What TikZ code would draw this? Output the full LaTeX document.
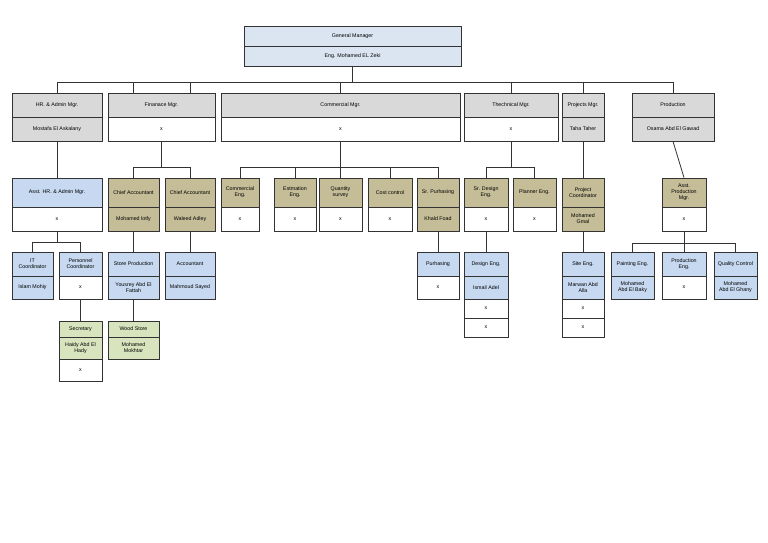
\documentclass[tikz,border=0pt]{standalone}
\usepackage{fontspec}
\setmainfont{Liberation Sans}
\usepackage{tikz}
\usetikzlibrary{calc, positioning}

\definecolor{gmblue}{HTML}{DBE5F1}
\definecolor{mgrgray}{HTML}{D9D9D9}
\definecolor{subblue}{HTML}{C6D9F0}
\definecolor{subtan}{HTML}{C4BD97}
\definecolor{subgreen}{HTML}{D7E4BD}

\tikzset{
  cell/.style={draw=black!80, line width=.8pt, inner sep=0pt, align=center,
    font=\fontsize{5.3}{6}\selectfont},
  gm/.style={cell, fill=gmblue},
  gr/.style={cell, fill=mgrgray},
  bl/.style={cell, fill=subblue},
  tn/.style={cell, fill=subtan},
  gn/.style={cell, fill=subgreen},
  wh/.style={cell, fill=white},
  link/.style={draw=black!80, line width=.8pt}
}
% cell: name, x1, y1, x2, y2, style, text
\newcommand{\cellbox}[7]{%
  \node[#6, minimum width={#4pt-#2pt}, minimum height={#5pt-#3pt}]
    (#1) at ({(#2+#4)/2},{(#3+#5)/2}) {#7};}

\begin{document}
\begin{tikzpicture}[x=1pt,y=-1pt]
  \useasboundingbox (0,0) rectangle (768,543);
  % General manager
  \cellbox{gm1}{244}{26}{461}{46}{gm}{General Manager}
  \cellbox{gm2}{244}{46}{461}{66}{gm}{Eng. Mohamed EL Zeki}
  % Managers
  \cellbox{hr1}{12}{93}{102}{117}{gr}{HR. \& Admin Mgr.}
  \cellbox{hr2}{12}{117}{102}{141}{gr}{Mostafa El Askalany}
  \cellbox{fin1}{108}{93}{215}{117}{gr}{Finanace Mgr.}
  \cellbox{fin2}{108}{117}{215}{141}{wh}{x}
  \cellbox{com1}{221}{93}{460}{117}{gr}{Commercial Mgr.}
  \cellbox{com2}{221}{117}{460}{141}{wh}{x}
  \cellbox{tech1}{464}{93}{558}{117}{gr}{Thechnical Mgr.}
  \cellbox{tech2}{464}{117}{558}{141}{wh}{x}
  \cellbox{proj1}{562}{93}{604}{117}{gr}{Projects Mgr.}
  \cellbox{proj2}{562}{117}{604}{141}{gr}{Taha Taher}
  \cellbox{prod1}{632}{93}{714}{117}{gr}{Production}
  \cellbox{prod2}{632}{117}{714}{141}{gr}{Osama Abd El Gawad}
  % Second level
  \cellbox{ahr1}{12}{178}{102}{207}{bl}{Asst. HR. \& Admin Mgr.}
  \cellbox{ahr2}{12}{207}{102}{231}{wh}{x}
  \cellbox{ca1}{108}{178}{159}{207}{tn}{Chief Accountant}
  \cellbox{ca2}{108}{207}{159}{231}{tn}{Mohamed lotfy}
  \cellbox{cb1}{165}{178}{215}{207}{tn}{Chief Accountant}
  \cellbox{cb2}{165}{207}{215}{231}{tn}{Waleed Adley}
  \cellbox{ce1}{221}{178}{259}{207}{tn}{Commercial\\Eng.}
  \cellbox{ce2}{221}{207}{259}{231}{wh}{x}
  \cellbox{est1}{274}{178}{316}{207}{tn}{Estmation\\Eng.}
  \cellbox{est2}{274}{207}{316}{231}{wh}{x}
  \cellbox{qty1}{319}{178}{362}{207}{tn}{Quantity\\survey}
  \cellbox{qty2}{319}{207}{362}{231}{wh}{x}
  \cellbox{cc1}{368}{178}{412}{207}{tn}{Cost control}
  \cellbox{cc2}{368}{207}{412}{231}{wh}{x}
  \cellbox{sp1}{417}{178}{459}{207}{tn}{Sr. Purhasing}
  \cellbox{sp2}{417}{207}{459}{231}{tn}{Khald Foad}
  \cellbox{sd1}{464}{178}{508}{207}{tn}{Sr. Design\\Eng.}
  \cellbox{sd2}{464}{207}{508}{231}{wh}{x}
  \cellbox{pl1}{513}{178}{556}{207}{tn}{Planner Eng.}
  \cellbox{pl2}{513}{207}{556}{231}{wh}{x}
  \cellbox{pc1}{562}{178}{604}{207}{tn}{Project\\Coordinator}
  \cellbox{pc2}{562}{207}{604}{231}{tn}{Mohamed\\Gmal}
  \cellbox{apm1}{662}{178}{706}{207}{tn}{Asst.\\Production\\Mgr.}
  \cellbox{apm2}{662}{207}{706}{231}{wh}{x}
  % Third level
  \cellbox{it1}{12}{252}{53}{276}{bl}{IT\\Coordinator}
  \cellbox{it2}{12}{276}{53}{299}{bl}{Islam Mohiy}
  \cellbox{per1}{59}{252}{102}{276}{bl}{Personnel\\Coordinator}
  \cellbox{per2}{59}{276}{102}{299}{wh}{x}
  \cellbox{stp1}{108}{252}{159}{276}{bl}{Store Production}
  \cellbox{stp2}{108}{276}{159}{299}{bl}{Yousrey Abd El\\Fattah}
  \cellbox{acc1}{165}{252}{215}{276}{bl}{Accountant}
  \cellbox{acc2}{165}{276}{215}{299}{bl}{Mahmoud Sayed}
  \cellbox{pur1}{417}{252}{459}{276}{bl}{Purhasing}
  \cellbox{pur2}{417}{276}{459}{299}{wh}{x}
  \cellbox{de1}{464}{252}{508}{276}{bl}{Design Eng.}
  \cellbox{de2}{464}{276}{508}{299}{bl}{Ismail Adel}
  \cellbox{de3}{464}{299}{508}{318}{wh}{x}
  \cellbox{de4}{464}{318}{508}{337}{wh}{x}
  \cellbox{se1}{562}{252}{604}{276}{bl}{Site Eng.}
  \cellbox{se2}{562}{276}{604}{299}{bl}{Marwan Abd\\Alla}
  \cellbox{se3}{562}{299}{604}{318}{wh}{x}
  \cellbox{se4}{562}{318}{604}{337}{wh}{x}
  \cellbox{pe1}{611}{252}{654}{276}{bl}{Painting Eng.}
  \cellbox{pe2}{611}{276}{654}{299}{bl}{Mohamed\\Abd El Baky}
  \cellbox{pre1}{662}{252}{706}{276}{bl}{Production\\Eng.}
  \cellbox{pre2}{662}{276}{706}{299}{wh}{x}
  \cellbox{qc1}{714}{252}{757}{276}{bl}{Quality Control}
  \cellbox{qc2}{714}{276}{757}{299}{bl}{Mohamed\\Abd El Ghany}
  % Fourth level
  \cellbox{sec1}{59}{321}{102}{337}{gn}{Secretary}
  \cellbox{sec2}{59}{337}{102}{359}{gn}{Haidy Abd El\\Hady}
  \cellbox{sec3}{59}{359}{102}{381}{wh}{x}
  \cellbox{ws1}{108}{321}{159}{337}{gn}{Wood Store}
  \cellbox{ws2}{108}{337}{159}{359}{gn}{Mohamed\\Mokhtar}
  % Connectors
  \path (gm2.south) ++(0,16) coordinate (gmbus);
  \draw[link] (gm2.south) -- (gmbus);
  \draw[link] (hr1.north |- gmbus) -- (prod1.north |- gmbus);
  \foreach \n in {hr1,com1,tech1,proj1,prod1}
    \draw[link] (\n.north |- gmbus) -- (\n.north);
  \draw[link] (ca1.north |- gmbus) -- (ca1.north |- fin1.north);
  \draw[link] (cb1.north |- gmbus) -- (cb1.north |- fin1.north);
  \draw[link] (hr2.south) -- (ahr1.north);
  \draw[link] (proj2.south) -- (pc1.north);
  \draw[link] (prod2.south) -- (apm1.north);
  \draw[link] (fin2.south) -- ++(0,26) -| (ca1.north);
  \draw[link] (fin2.south) ++(0,26) -| (cb1.north);
  \draw[link] (com2.south) -- ++(0,26) coordinate (combus);
  \draw[link] (ce1.north |- combus) -- (sp1.north |- combus);
  \foreach \n in {ce1,est1,qty1,cc1,sp1}
    \draw[link] (\n.north |- combus) -- (\n.north);
  \draw[link] (tech2.south) -- ++(0,26) coordinate (techbus);
  \draw[link] (sd1.north |- techbus) -- (pl1.north |- techbus);
  \foreach \n in {sd1,pl1}
    \draw[link] (\n.north |- techbus) -- (\n.north);
  \draw[link] (ahr2.south) -- ++(0,11) coordinate (ahrbus);
  \draw[link] (it1.north |- ahrbus) -- (per1.north |- ahrbus);
  \foreach \n in {it1,per1}
    \draw[link] (\n.north |- ahrbus) -- (\n.north);
  \draw[link] (ca2.south) -- (stp1.north);
  \draw[link] (cb2.south) -- (acc1.north);
  \draw[link] (sp2.south) -- (pur1.north);
  \draw[link] (sd2.south) -- (de1.north);
  \draw[link] (pc2.south) -- (se1.north);
  \draw[link] (apm2.south) -- ++(0,12) coordinate (apmbus);
  \draw[link] (pe1.north |- apmbus) -- (qc1.north |- apmbus);
  \foreach \n in {pe1,pre1,qc1}
    \draw[link] (\n.north |- apmbus) -- (\n.north);
  \draw[link] (per2.south) -- (sec1.north);
  \draw[link] (stp2.south) -- (ws1.north);
\end{tikzpicture}
\end{document}
